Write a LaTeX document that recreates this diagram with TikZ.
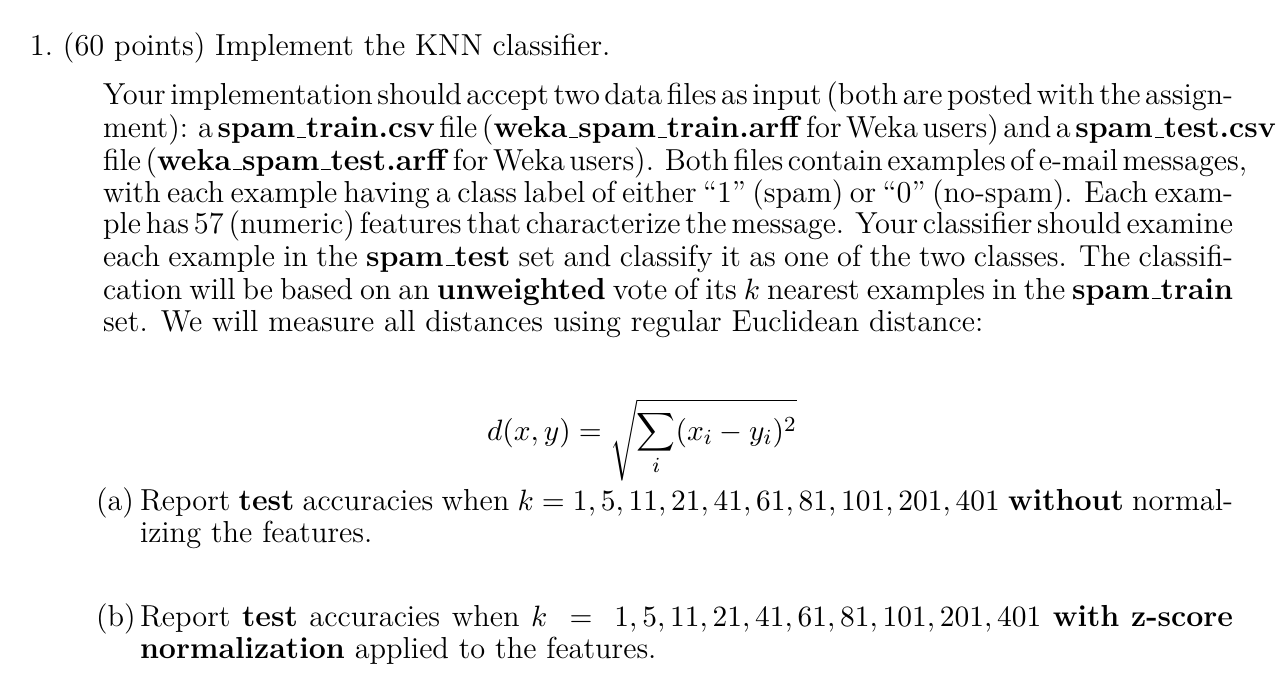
\documentclass[tikz,border=0pt]{standalone}
\begin{document}
\begin{tikzpicture}[x=0.372pt,y=-0.372pt,
  ln/.style={anchor=base west,inner sep=0pt,outer sep=0pt,font=\fontsize{11.3}{13.5}\selectfont}]
\def\us{\leavevmode\kern.06em\vbox{\hrule width.3em}}
\def\jl#1#2{\hbox to #1{\spaceskip=.3em plus .3em minus .15em\relax #2}}
\useasboundingbox (0,0) rectangle (1276,696);
\def\W{420.4pt}
\def\Wb{406.6pt}
\node[ln] (n0) at (30,56) {1.};
\node[ln] (t0) at (63,56) {(60 points) Implement the KNN classifier.};
\node[ln] (l1) at (103,105) {\jl{\W}{Your implementation should accept two data files as input (both are posted with the assign-}};
\node[ln] (l2) at (103,138) {\jl{\W}{ment): a \textbf{spam\us train.csv} file (\textbf{weka\us spam\us train.arff} for Weka users) and a \textbf{spam\us test.csv}}};
\node[ln] (l3) at (103,170) {\jl{\W}{file (\textbf{weka\us spam\us test.arff} for Weka users). Both files contain examples of e-mail messages,}};
\node[ln] (l4) at (103,202) {\jl{\W}{with each example having a class label of either ``1'' (spam) or ``0'' (no-spam).  Each exam-}};
\node[ln] (l5) at (103,234) {\jl{\W}{ple has 57 (numeric) features that characterize the message.  Your classifier should examine}};
\node[ln] (l6) at (103,266) {\jl{\W}{each example in the \textbf{spam\us test} set and classify it as one of the two classes.  The classifi-}};
\node[ln] (l7) at (103,299) {\jl{\W}{cation will be based on an \textbf{unweighted} vote of its $k$ nearest examples in the \textbf{spam\us train}}};
\node[ln] (l8) at (103,331) {set. We will measure all distances using regular Euclidean distance:};
\node[anchor=base,inner sep=0pt,font=\fontsize{11.3}{13.5}\selectfont] (f) at (642,440) {$\displaystyle d(x,y)=\sqrt{\sum_i (x_i-y_i)^2}$};
\node[ln] (a) at (96,510) {(a)};
\node[ln] (a1) at (140,510) {\jl{\Wb}{Report \textbf{test} accuracies when $k=1,5,11,21,41,61,81,101,201,401$ \textbf{without} normal-}};
\node[ln] (a2) at (140,542) {izing the features.};
\node[ln] (b) at (96,626) {(b)};
\node[ln] (b1) at (140,626) {\jl{\Wb}{Report \textbf{test} accuracies when $k\ =\ 1,5,11,21,41,61,81,101,201,401$ \textbf{with z-score}}};
\node[ln] (b2) at (140,658) {\textbf{normalization} applied to the features.};
\end{tikzpicture}
\end{document}
